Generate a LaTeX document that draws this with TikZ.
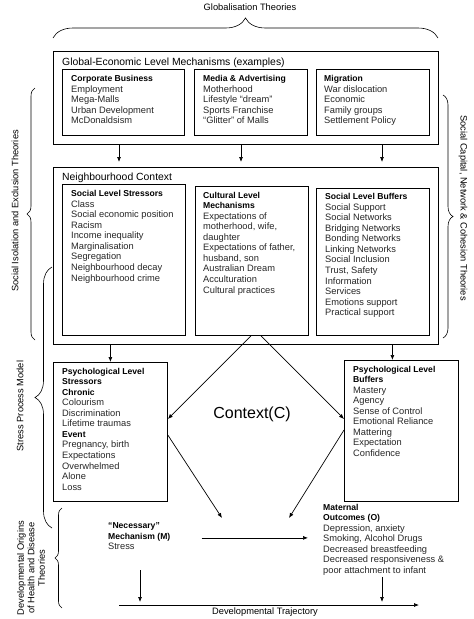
\documentclass[tikz,border=0pt]{standalone}
\usepackage{fontspec}
\setmainfont{Liberation Sans}
\usetikzlibrary{positioning,arrows.meta,decorations.pathreplacing}
\tikzset{
  >={Latex[length=5pt,width=4pt]},
  arr/.style   ={->, line width=0.7pt},
  box/.style   ={draw, line width=1pt, anchor=north west, inner sep=0pt},
  inbox/.style ={draw, line width=0.8pt, anchor=north west, inner sep=0pt},
  txt/.style   ={anchor=north west, inner sep=0pt, align=left, text=black!85,
                 font=\fontsize{9.3}{10.56}\selectfont, execute at begin node=\strut},
  ttl/.style   ={anchor=base west, inner sep=0pt, font=\fontsize{10.4}{12}\selectfont},
  lbl/.style   ={inner sep=0pt, font=\fontsize{9.3}{10.56}\selectfont},
  brc/.style   ={decorate, line width=0.6pt},
}
\newcommand\hd[1]{{\fontsize{8.6}{10.56}\selectfont\bfseries\color{black}#1}}

\begin{document}
\begin{tikzpicture}[x=1pt,y=-1pt]
  \useasboundingbox (0,0) rectangle (474,619);

  % theories
  \node[lbl] (globth) at (250,7) {Globalisation Theories};
  \draw[brc, decoration={brace,amplitude=20pt}] (53,38) -- (438,38);
  \node[lbl, rotate=90] (isolth) at (15,211) {Social Isolation and Exclusion Theories};
  \draw[brc, decoration={brace,amplitude=8pt}] (35,340) -- (35,88);
  \node[lbl, rotate=-90] (capth) at (463,208) {Social Capital, Network \& Cohesion Theories};
  \draw[brc, decoration={brace,amplitude=10pt}] (443,95) -- (443,338);
  \node[lbl, rotate=90] (stressth) at (20,406) {Stress Process Model};
  \draw[brc, decoration={brace,amplitude=17pt}] (52,528) -- (52,267);
  \node[lbl, rotate=90, align=center] (devth) at (31,568)
    {Developmental Origins\\of Health and Disease\\Theories};
  \draw[brc, decoration={brace,amplitude=7pt}] (62,608) -- (62,508);

  % global-economic level
  \node[box, minimum width=385pt, minimum height=93pt] (glob) at (53,51) {};
  \node[ttl] (globttl) at (62,65.5) {Global-Economic Level Mechanisms (examples)};
  \node[inbox, minimum width=122pt, minimum height=66pt] (corp) at (62,69) {};
  \node[inbox, minimum width=113pt, minimum height=66pt] (media) at (194,69) {};
  \node[inbox, minimum width=113pt, minimum height=66pt] (migr) at (316,69) {};
  \node[txt] (corptxt) at (71,75.1)
    {\hd{Corporate Business}\\Employment\\Mega-Malls\\Urban Development\\McDonaldsism};
  \node[txt] (mediatxt) at (203,75.1)
    {\hd{Media \& Advertising}\\Motherhood\\Lifestyle “dream”\\Sports Franchise\\“Glitter” of Malls};
  \node[txt] (migrtxt) at (324,75.1)
    {\hd{Migration}\\War dislocation\\Economic\\Family groups\\Settlement Policy};

  % neighbourhood
  \node[box, minimum width=385pt, minimum height=177pt] (nbh) at (53,167) {};
  \node[ttl] (nbhttl) at (62,180.5) {Neighbourhood Context};
  \node[inbox, minimum width=123pt, minimum height=151pt] (sstr) at (62,184) {};
  \node[inbox, minimum width=113pt, minimum height=149pt] (cult) at (195,186) {};
  \node[inbox, minimum width=113pt, minimum height=147pt] (sbuf) at (316,188) {};
  \node[txt] (sstrtxt) at (71,190.1)
    {\hd{Social Level Stressors}\\Class\\Social economic position\\Racism\\Income inequality\\
     Marginalisation\\Segregation\\Neighbourhood decay\\Neighbourhood crime};
  \node[txt] (culttxt) at (203,191.6)
    {\hd{Cultural Level}\\\hd{Mechanisms}\\Expectations of\\motherhood, wife,\\daughter\\
     Expectations of father,\\husband, son\\Australian Dream\\Acculturation\\Cultural practices};
  \node[txt] (sbuftxt) at (325,193.1)
    {\hd{Social Level Buffers}\\Social Support\\Social Networks\\Bridging Networks\\Bonding Networks\\
     Linking Networks\\Social Inclusion\\Trust, Safety\\Information\\Services\\Emotions support\\Practical support};

  \coordinate (a1) at ([xshift=66pt]glob.south west);
  \coordinate (a2) at ([xshift=188pt]glob.south west);
  \coordinate (a3) at ([xshift=329pt]glob.south west);
  \foreach \c in {a1,a2,a3}
    \draw[arr, shorten >=5pt] (\c) -- (\c |- nbh.north);

  % psychological level
  \node[inbox, minimum width=114pt, minimum height=139pt] (ps) at (53,362) {};
  \node[inbox, minimum width=114pt, minimum height=141pt] (pb) at (344,360) {};
  \node[txt] (pstxt) at (62,367.6)
    {\hd{Psychological Level}\\\hd{Stressors}\\\hd{Chronic}\\Colourism\\Discrimination\\Lifetime traumas\\
     \hd{Event}\\Pregnancy, birth\\Expectations\\Overwhelmed\\Alone\\Loss};
  \node[txt] (pbtxt) at (353,365.6)
    {\hd{Psychological Level}\\\hd{Buffers}\\Mastery\\Agency\\Sense of Control\\Emotional Reliance\\
     Mattering\\Expectation\\Confidence};
  \coordinate (pbin) at ([xshift=-9pt]pb.north);
  \draw[arr] (nbh.south -| ps.north) -- (ps.north);
  \draw[arr] (nbh.south -| pbin) -- (pbin);

  % context
  \node[font=\fontsize{16}{18}\selectfont, inner sep=0pt] (ctx) at (252,414) {Context(C)};
  \draw[arr] ([xshift=56pt]cult.south west) -- ([yshift=-57pt]ps.north east);
  \draw[arr] ([xshift=66pt]cult.south west) -- ([yshift=-59pt]pb.north west);
  \coordinate (modl) at (222,518);
  \coordinate (modr) at (289,518);
  \draw[arr] ([yshift=-73pt]ps.north east) -- (modl);
  \draw[arr] ([yshift=-70pt]pb.north west) -- (modr);

  % mechanism and outcomes
  \node[txt] (mech) at (108,522.6) {\hd{“Necessary”}\\\hd{Mechanism (M)}\\Stress};
  \node[txt] (outc) at (323,503.6)
    {\hd{Maternal}\\\hd{Outcomes (O)}\\Depression, anxiety\\Smoking, Alcohol Drugs\\
     Decreased breastfeeding\\Decreased responsiveness \&\\poor attachment to infant};
  \draw[arr, shorten <=31pt, shorten >=15pt] (mech.east) -- (mech.east -| outc.west);

  % trajectory
  \coordinate (trs) at (119,605);
  \coordinate (tre) at (419,605);
  \draw[arr] (trs) -- (tre);
  \node[lbl] (trajlbl) at (265,612) {Developmental Trajectory};
  \coordinate (md) at ([xshift=32pt,yshift=-17pt]mech.south west);
  \coordinate (od) at ([xshift=59pt]outc.south west);
  \draw[arr, shorten >=3pt] (md) -- (md |- trs);
  \draw[arr, shorten >=3pt] (od) -- (od |- trs);
\end{tikzpicture}
\end{document}
